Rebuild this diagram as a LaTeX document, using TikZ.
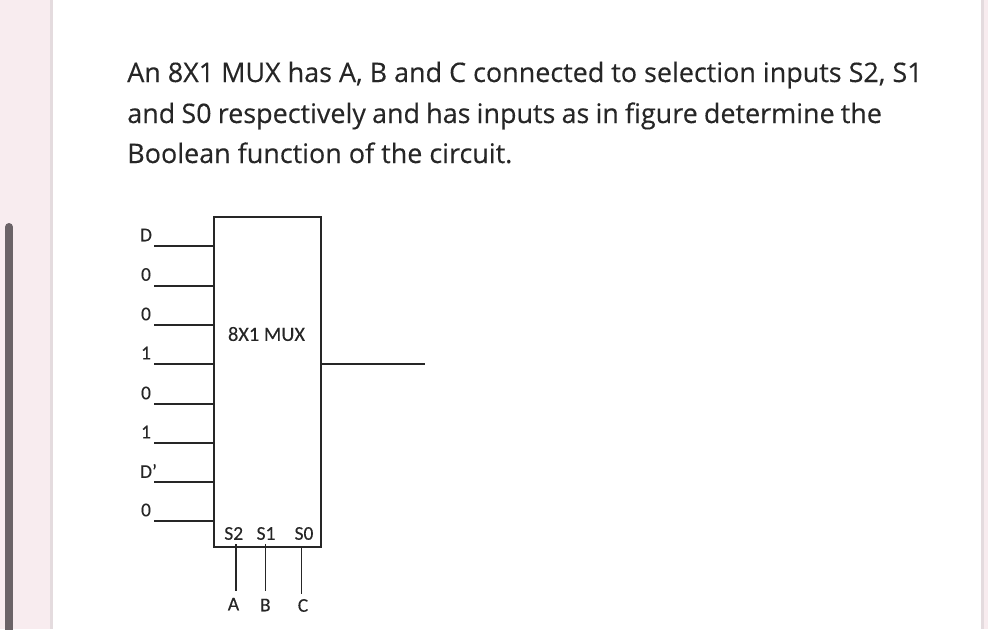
\documentclass[tikz,border=0pt]{standalone}
\usepackage{fontspec}
\setmainfont[FakeBold=0.25]{Open Sans}
\newfontfamily\figfont[FakeBold=0.15]{Carlito}
\definecolor{pinkbg}{HTML}{F8ECEF}
\definecolor{edgegrey}{HTML}{E4DBDE}
\definecolor{barcol}{HTML}{6B6367}
\definecolor{inkcol}{HTML}{262626}
\tikzset{
  titleline/.style={anchor=base west,inner sep=0pt,font=\fontsize{20.2}{24}\selectfont,text=inkcol},
  figlabel/.style={inner sep=0pt,font=\figfont\fontsize{14.6}{16}\selectfont,text=inkcol},
  thinwire/.style={draw=inkcol,line width=1.3pt},
  muxframe/.style={draw=inkcol,line width=1.3pt}
}
\begin{document}
\begin{tikzpicture}[x=0.75pt,y=-0.75pt]
\useasboundingbox (0,0) rectangle (988,629);
\fill[white] (0,0) rectangle (988,629);
\fill[pinkbg] (0,0) rectangle (50,629);
\fill[edgegrey] (50,0) rectangle (52.5,629);
\fill[pinkbg] (984,0) rectangle (988,629);
\fill[edgegrey] (981,0) rectangle (984,629);
\draw[barcol,line width=6pt,line cap=round] (9,227) -- (9,640);
\node[titleline] (t1) at (127,82) {An 8X1 MUX has A, B and C connected to selection inputs S2, S1};
\node[titleline] (t2) at (127,123) {\spaceskip=4.6pt and S0 respectively and has inputs as in figure determine the};
\node[titleline] (t3) at (127,163) {Boolean function of the circuit.};
\coordinate (boxtl) at (213.7,217);
\coordinate (boxbr) at (321,547);
\draw[muxframe] (boxtl) rectangle (boxbr);
\node[figlabel,font=\figfont\fontsize{15.3}{16}\selectfont] (mux) at (266.5,334) {8X1 MUX};
\foreach \n/\txt/\y/\ly/\lx in {a/D/246.3/235/146,b/0/285.7/274.5/146,c/0/325/314/146,d/1/364.3/353/146,e/0/404/393/146,f/1/443.3/432/146,g/D’/482.3/471/148.5,h/0/521/510/146}{
  \coordinate (in\n) at (154,\y);
  \coordinate (pin\n) at (213.7,\y);
  \node[figlabel] (lab\n) at (\lx,\ly) {\txt};
  \draw[thinwire] (in\n) -- (pin\n);
}
\coordinate (outl) at (321,364.3);
\coordinate (outr) at (425,364.3);
\draw[thinwire] (outl) -- (outr);
\node[figlabel] (s2) at (233.7,533.5) {S2};
\node[figlabel] (s1) at (266,533.5) {S1};
\node[figlabel] (s0) at (304,533.5) {S0};
\node[figlabel] (la) at (233.5,604) {A};
\node[figlabel] (lb) at (265.3,605) {B};
\node[figlabel] (lc) at (303,605.5) {C};
\coordinate (ta) at (235.7,544);
\coordinate (tb) at (265.5,544);
\coordinate (tc) at (301.5,547);
\draw[thinwire] (ta) -- (235.7,591);
\draw[thinwire] (tb) -- (265.5,591);
\draw[thinwire] (tc) -- (301.5,594);
\end{tikzpicture}
\end{document}
